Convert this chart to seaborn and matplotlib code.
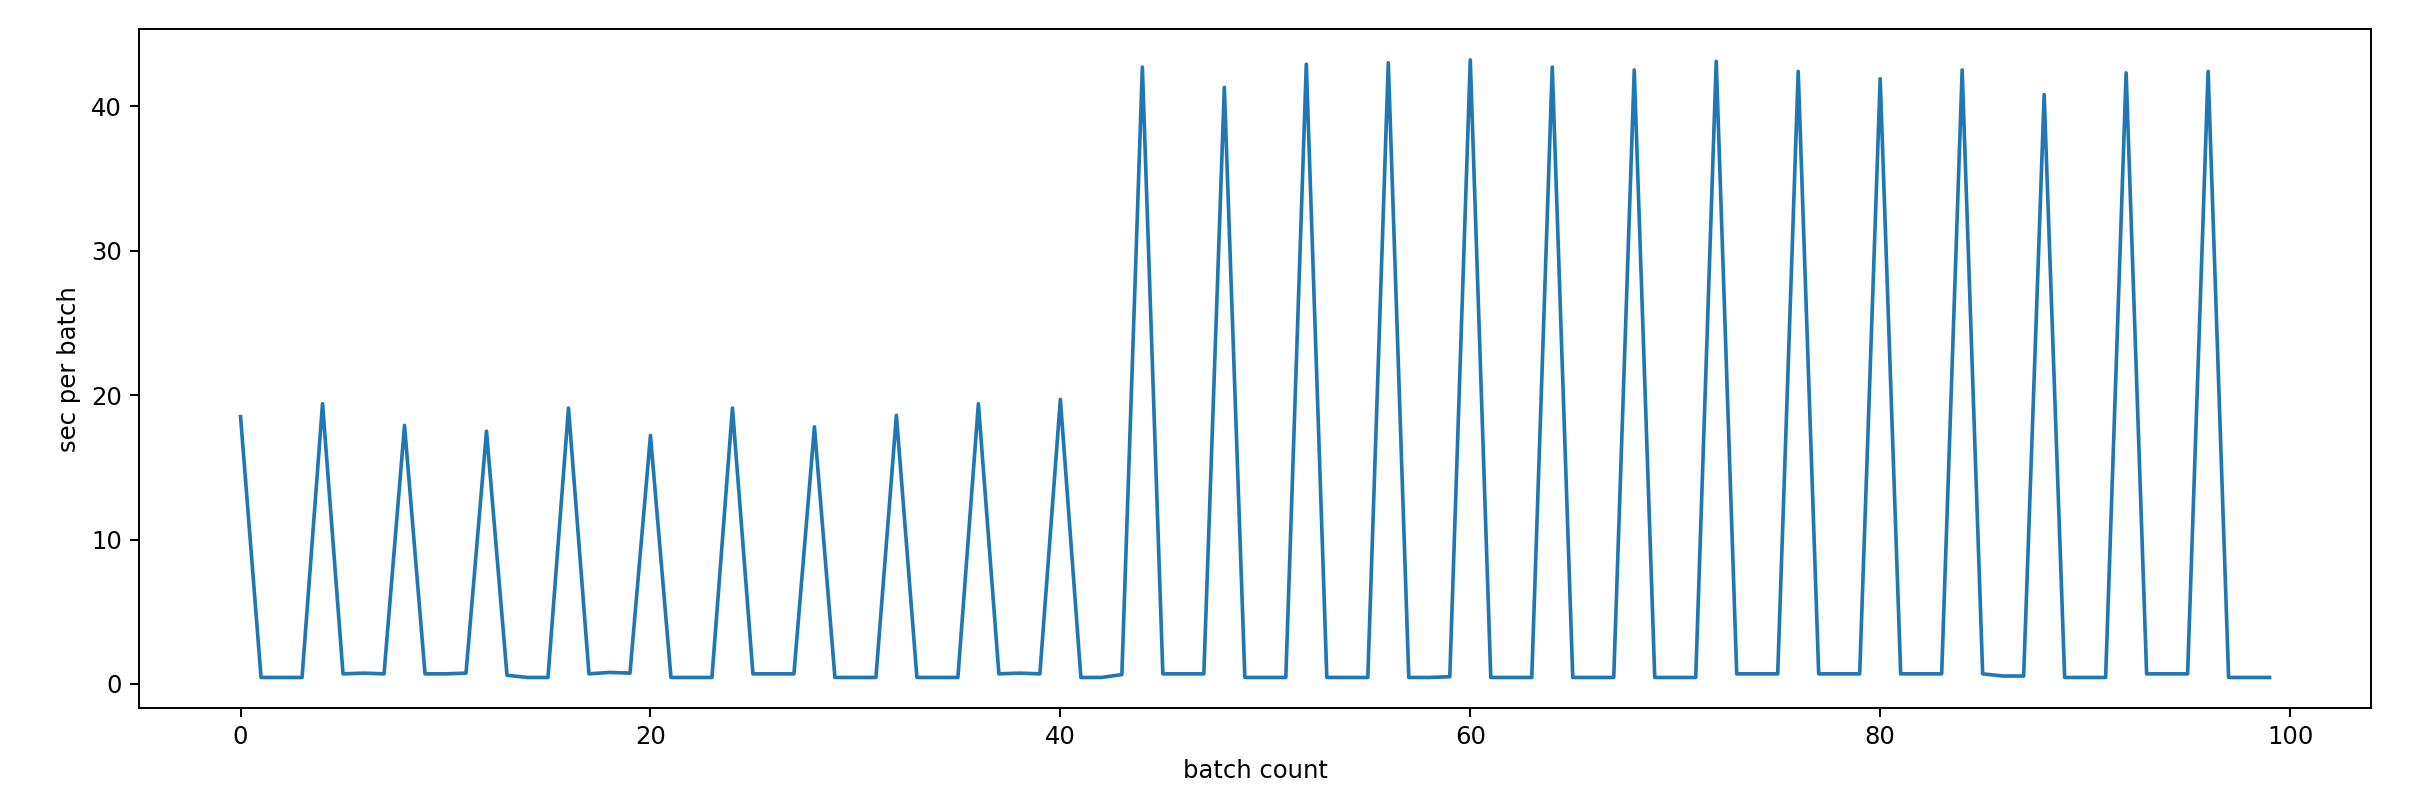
import pandas as pd
import matplotlib
matplotlib.use("Agg")
import matplotlib.pyplot as plt
import seaborn as sns

# peak every 4th batch, low values in between
peaks = [18.5, 19.4, 17.9, 17.5, 19.1, 17.2, 19.1, 17.8, 18.6, 19.4, 19.7,
         42.7, 41.3, 42.9, 43.0, 43.2, 42.7, 42.5, 43.1, 42.4, 41.9, 42.5,
         40.8, 42.3, 42.4]
lows = [
    [0.45, 0.45, 0.45],
    [0.7, 0.75, 0.7],
    [0.7, 0.7, 0.75],
    [0.6, 0.45, 0.45],
    [0.7, 0.8, 0.75],
    [0.45, 0.45, 0.45],
    [0.7, 0.7, 0.7],
    [0.45, 0.45, 0.45],
    [0.45, 0.45, 0.45],
    [0.7, 0.75, 0.7],
    [0.45, 0.45, 0.65],
    [0.7, 0.7, 0.7],
    [0.45, 0.45, 0.45],
    [0.45, 0.45, 0.45],
    [0.45, 0.45, 0.5],
    [0.45, 0.45, 0.45],
    [0.45, 0.45, 0.45],
    [0.45, 0.45, 0.45],
    [0.7, 0.7, 0.7],
    [0.7, 0.7, 0.7],
    [0.7, 0.7, 0.7],
    [0.7, 0.55, 0.55],
    [0.45, 0.45, 0.45],
    [0.7, 0.7, 0.7],
    [0.45, 0.45, 0.45],
]

sec_per_batch = []
for p, l in zip(peaks, lows):
    sec_per_batch.append(p)
    sec_per_batch.extend(l)

df = pd.DataFrame({'batch count': range(len(sec_per_batch)),
                   'sec per batch': sec_per_batch})

dpi = 175
fig = plt.figure(figsize=(2415 / dpi, 795 / dpi), dpi=dpi)
ax = fig.add_subplot(111)
fig.subplots_adjust(left=0.0576, right=0.9818, bottom=0.109, top=0.9635)

sns.lineplot(data=df, x='batch count', y='sec per batch', ax=ax, color='#1f77b4')

plt.savefig('out.png', dpi=dpi)
